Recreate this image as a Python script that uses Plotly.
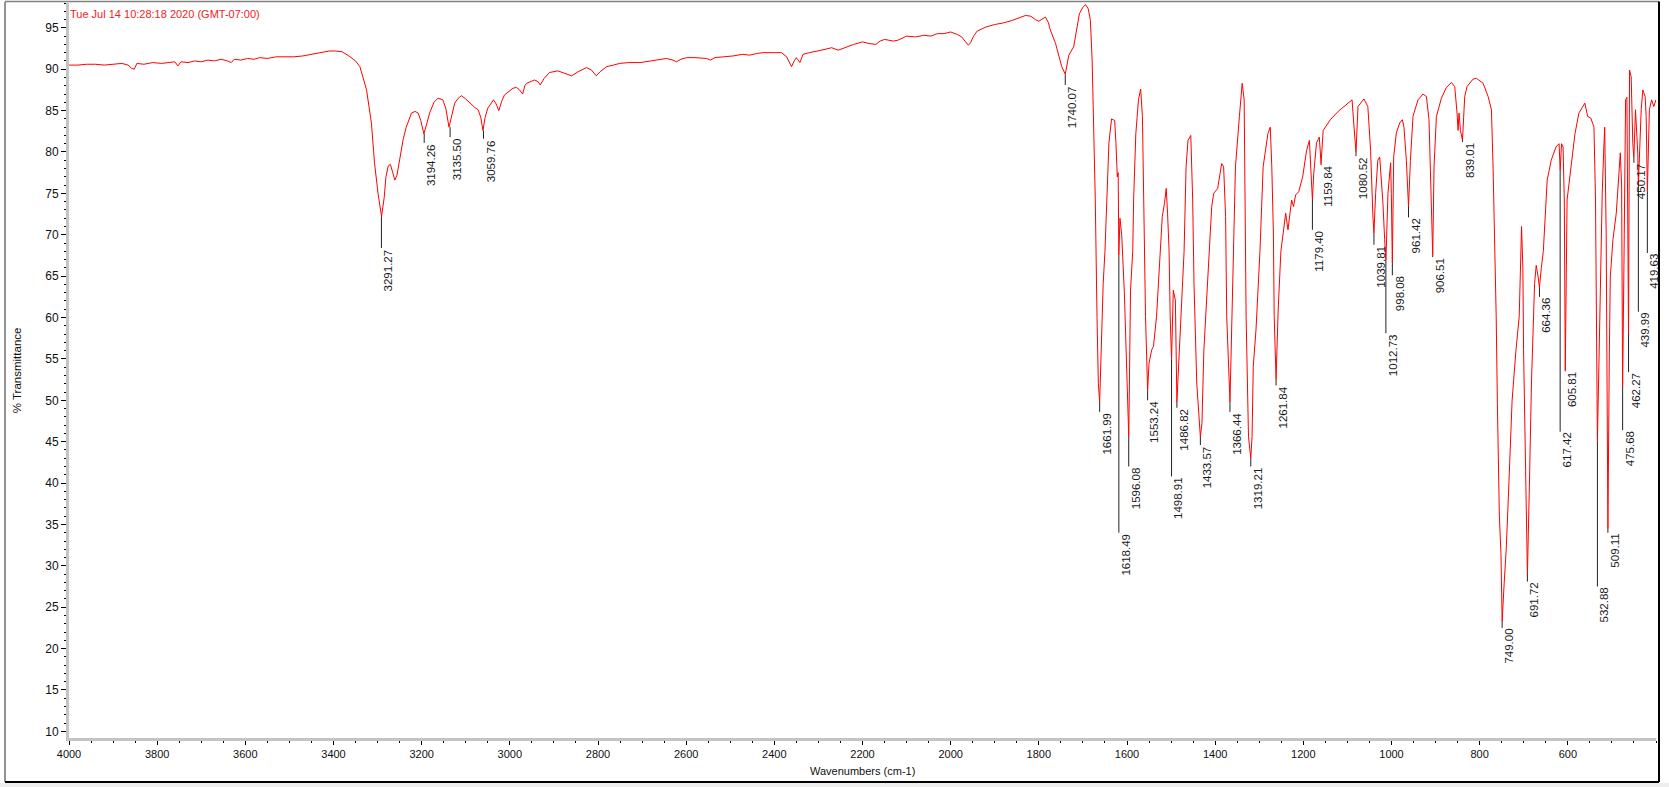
import plotly.graph_objects as go

# ---------------- data ----------------
wavenumber = [
    4000, 3980, 3960, 3940, 3920, 3900, 3880, 3866, 3858, 3852, 3846, 3830, 3810, 3790, 3775, 3760,
    3753, 3746, 3730, 3715, 3700, 3685, 3670, 3655, 3640, 3632, 3625, 3610, 3595, 3580, 3568, 3550,
    3530, 3510, 3490, 3470, 3450, 3430, 3410, 3395, 3380, 3365, 3350, 3340, 3325, 3314, 3307, 3299,
    3291, 3285, 3281, 3276, 3271, 3266, 3261, 3256, 3250, 3242, 3235, 3223, 3215, 3208, 3202, 3195,
    3188, 3182, 3172, 3163, 3152, 3145, 3138, 3132, 3125, 3117, 3110, 3100, 3091, 3080, 3072, 3066,
    3061, 3056, 3050, 3043, 3037, 3031, 3025, 3018, 3012, 3000, 2993, 2985, 2978, 2971, 2966, 2962,
    2944, 2936, 2931, 2922, 2910, 2891, 2875, 2860, 2845, 2826, 2815, 2804, 2795, 2781, 2765, 2751,
    2730, 2705, 2680, 2660, 2645, 2630, 2622, 2612, 2599, 2580, 2565, 2554, 2545, 2535, 2515, 2494,
    2472, 2456, 2440, 2426, 2400, 2384, 2372, 2365, 2361, 2355, 2350, 2342, 2335, 2320, 2300, 2285,
    2270, 2255, 2240, 2220, 2200, 2185, 2170, 2160, 2150, 2130, 2120, 2100, 2080, 2060, 2045, 2030,
    2015, 2000, 1985, 1975, 1966, 1960, 1955, 1948, 1940, 1920, 1900, 1880, 1860, 1845, 1830, 1818,
    1808, 1800, 1792, 1785, 1778, 1775, 1762, 1748, 1740, 1732, 1721, 1715, 1708, 1700, 1694, 1688,
    1683, 1679, 1676, 1672, 1668, 1665, 1662, 1659, 1654, 1650, 1645, 1641, 1635, 1628, 1625, 1622,
    1620, 1618.5, 1616, 1612, 1606, 1601, 1596, 1592, 1587, 1585, 1580, 1574, 1569, 1565, 1562, 1560,
    1558, 1553.2, 1550, 1544, 1540, 1533, 1524, 1520, 1515, 1511, 1508, 1504.6, 1502, 1498.9, 1495, 1490.3,
    1486.8, 1484, 1479.6, 1475, 1470.5, 1466, 1461.6, 1455.3, 1451, 1448, 1441.8, 1433.6, 1430, 1425.6, 1416.7, 1412.4,
    1407.8, 1403.3, 1394.3, 1385.3, 1380.8, 1376.3, 1373.8, 1366.4, 1363, 1358.5, 1354, 1345, 1338.7, 1334.2, 1331.5, 1329.8,
    1324.4, 1319.2, 1316.3, 1313.6, 1307.4, 1302, 1298.4, 1291.2, 1280.4, 1275, 1271.5, 1267.9, 1266.1, 1261.8, 1257.1, 1250.9,
    1246.4, 1240, 1234.8, 1226.6, 1222.2, 1217.6, 1210.4, 1201.5, 1192.6, 1186.2, 1181.7, 1179.4, 1176.4, 1170.1, 1163.8, 1159.8,
    1155, 1138.8, 1120.9, 1107.4, 1089.5, 1085, 1080.5, 1076, 1062.6, 1053.7, 1047.4, 1042, 1039.8, 1036, 1031, 1026.8,
    1019.4, 1015.5, 1012.7, 1008, 1004.2, 1002, 1000.4, 998.1, 995, 989, 981.4, 975.4, 971.7, 966.3, 961.4, 957.1,
    951.2, 939.9, 928.5, 920.8, 914.9, 911.7, 906.5, 903.5, 898.1, 886.8, 875.4, 864.1, 856.6, 851.3, 849, 846.8,
    843.6, 839, 833.9, 828.6, 815, 807.3, 792.2, 780.9, 773.3, 769.6, 765.8, 762.5, 759.8, 755.3, 751.7, 749,
    744.4, 739.9, 735.4, 730.9, 726.4, 717.6, 710.3, 705, 702, 700.4, 695.9, 691.7, 687.1, 682.5, 675.4, 671.7,
    667.3, 664.4, 660.2, 655.6, 646.8, 637.7, 626.9, 619.8, 617.4, 614.3, 610.8, 608, 605.8, 603.6, 601.7, 592.8,
    583.8, 574.9, 561.4, 555.1, 547.9, 540.7, 537.2, 532.9, 528, 522, 518.7, 516.4, 513, 509.1, 506, 503.7,
    497.7, 490.1, 484.1, 481, 478, 475.7, 472, 469, 466, 462.3, 460, 456.3, 452.6, 450.2, 446.5, 441.3,
    440, 433.6, 429.9, 424.6, 422.3, 419.6, 415, 410, 405, 400,
]
transmittance = [
    90.5, 90.5, 90.6, 90.6, 90.5, 90.6, 90.7, 90.5, 90.1, 90.0, 90.7, 90.6, 90.8, 90.7, 90.8, 90.9,
    90.4, 90.9, 90.8, 91.0, 90.9, 91.1, 91.0, 91.2, 91.0, 90.8, 91.2, 91.1, 91.3, 91.2, 91.4, 91.3,
    91.5, 91.5, 91.5, 91.6, 91.8, 92.0, 92.2, 92.2, 92.1, 91.6, 91.0, 90.3, 87.5, 83.5, 78.7, 75.0,
    72.2, 74.5, 77.0, 78.3, 78.5, 77.6, 76.6, 77.2, 79.0, 81.5, 83.0, 84.7, 84.9, 84.7, 83.8, 82.2,
    83.5, 84.7, 86.0, 86.5, 86.3, 85.2, 83.0, 84.5, 85.9, 86.5, 86.8, 86.4, 85.9, 85.4, 85.1, 84.2,
    82.6, 84.2, 85.3, 85.9, 86.3, 85.8, 85.0, 86.2, 86.9, 87.4, 87.7, 87.8, 87.5, 87.0, 88.0, 88.3,
    88.7, 88.5, 88.1, 88.9, 89.6, 89.8, 89.5, 89.2, 89.7, 90.2, 89.9, 89.2, 89.7, 90.3, 90.5, 90.7,
    90.8, 90.8, 91.0, 91.2, 91.3, 91.1, 90.9, 91.2, 91.4, 91.4, 91.3, 91.3, 91.1, 91.4, 91.5, 91.6,
    91.8, 91.7, 91.9, 92.0, 92.0, 92.0, 91.5, 90.6, 90.3, 91.0, 91.4, 90.8, 91.8, 92.0, 92.2, 92.4,
    92.6, 92.3, 92.6, 93.0, 93.3, 93.1, 93.0, 93.4, 93.6, 93.4, 93.5, 94.0, 93.9, 94.1, 94.0, 94.3,
    94.3, 94.5, 94.2, 93.9, 93.3, 92.9, 93.2, 94.0, 94.6, 95.1, 95.4, 95.6, 95.9, 96.2, 96.5, 96.4,
    96.0, 95.8, 96.1, 96.3, 95.6, 94.9, 93.1, 90.3, 89.4, 91.7, 92.7, 94.5, 96.7, 97.5, 97.8, 97.3,
    95.9, 91.0, 84.0, 74.4, 60.0, 52.0, 49.8, 56.5, 64.1, 68.0, 74.2, 81.1, 84.0, 83.8, 81.0, 77.0,
    77.5, 67.5, 72.0, 70.0, 63.0, 55.0, 45.6, 63.3, 68.0, 74.2, 82.2, 86.3, 87.6, 84.3, 74.2, 68.0,
    60.1, 51.2, 54.5, 56.1, 56.5, 60.1, 68.0, 72.2, 73.8, 75.6, 72.6, 68.2, 60.1, 54.9, 63.3, 62.1,
    49.8, 52.9, 58.1, 64.1, 68.0, 78.2, 81.4, 82.0, 74.2, 64.1, 52.1, 45.6, 47.2, 56.1, 64.1, 68.0,
    73.4, 75.0, 75.6, 78.6, 78.2, 72.2, 60.1, 49.8, 58.1, 68.0, 78.2, 84.3, 88.3, 86.3, 74.2, 60.1,
    45.6, 43.0, 45.6, 54.1, 58.5, 63.3, 68.0, 78.2, 82.2, 83.0, 78.2, 70.2, 60.1, 52.5, 60.9, 68.0,
    70.2, 72.6, 70.6, 74.2, 73.4, 74.8, 75.2, 77.0, 80.2, 81.4, 76.6, 74.2, 77.4, 81.1, 81.8, 78.6,
    82.6, 83.9, 84.9, 85.5, 86.3, 83.0, 80.0, 85.5, 86.4, 85.5, 80.2, 72.0, 70.2, 75.0, 79.0, 79.4,
    73.8, 69.4, 66.9, 75.0, 78.2, 78.7, 75.0, 66.6, 79.4, 82.3, 83.5, 83.9, 83.0, 79.0, 73.4, 79.0,
    84.3, 86.3, 87.0, 86.7, 83.9, 78.2, 67.5, 78.2, 84.3, 86.5, 87.8, 88.4, 87.9, 84.7, 82.6, 84.7,
    82.6, 81.4, 86.7, 87.9, 88.8, 88.9, 88.3, 86.7, 85.1, 78.2, 70.2, 60.1, 49.6, 36.0, 31.5, 23.3,
    27.9, 31.9, 37.6, 44.4, 50.0, 56.1, 60.1, 71.0, 66.0, 56.1, 40.0, 28.9, 40.0, 52.1, 64.1, 66.3,
    64.9, 63.6, 66.0, 68.0, 76.6, 79.0, 80.6, 81.0, 77.8, 81.0, 80.6, 74.2, 53.6, 64.1, 74.2, 78.2,
    82.2, 84.7, 85.9, 84.3, 84.1, 83.0, 74.2, 45.0, 60.0, 75.0, 80.0, 83.0, 70.0, 34.5, 55.0, 64.9,
    69.4, 72.6, 77.4, 79.9, 76.0, 51.6, 70.0, 86.3, 86.6, 58.0, 89.9, 89.1, 81.0, 79.4, 85.1, 79.8,
    76.0, 85.1, 87.5, 86.7, 84.3, 75.2, 85.1, 86.3, 85.5, 86.3,
]

peak_labels = ["3291.27", "3194.26", "3135.50", "3059.76", "1740.07", "1661.99", "1618.49", "1596.08",
               "1553.24", "1498.91", "1486.82", "1433.57", "1366.44", "1319.21", "1261.84", "1179.40",
               "1159.84", "1080.52", "1039.81", "1012.73", "998.08", "961.42", "906.51", "839.01",
               "749.00", "691.72", "664.36", "617.42", "605.81", "532.88", "509.11", "475.68",
               "462.27", "450.17", "439.99", "419.63"]
peak_T = [72.2, 82.2, 83.0, 82.6, 89.4, 49.8, 67.5, 45.6,
          51.2, 54.9, 49.8, 45.6, 49.8, 43.0, 52.5, 74.2,
          78.6, 80.0, 70.2, 66.9, 66.6, 73.4, 67.5, 81.4,
          23.3, 28.9, 63.6, 77.8, 53.6, 45.0, 34.5, 51.6,
          58.0, 79.4, 76.0, 75.2]
label_T = [68.4, 81.1, 81.8, 81.6, 88.1, 48.6, 34.0, 42.0,
           50.0, 40.8, 49.1, 44.6, 48.6, 42.0, 51.8, 70.6,
           78.4, 79.5, 68.8, 58.1, 65.1, 72.1, 67.3, 81.2,
           22.5, 28.1, 62.5, 46.2, 53.5, 27.5, 34.0, 46.4,
           53.4, 78.7, 60.7, 67.8]

x_ticks = [4000, 3800, 3600, 3400, 3200, 3000, 2800, 2600, 2400, 2200, 2000, 1800, 1600, 1400, 1200, 1000, 800, 600]
y_ticks = [10, 15, 20, 25, 30, 35, 40, 45, 50, 55, 60, 65, 70, 75, 80, 85, 90, 95]

title_text = "Tue Jul 14 10:28:18 2020 (GMT-07:00)"
x_title = "Wavenumbers (cm-1)"
y_title = "% Transmittance"

# ---------------- figure ----------------
FONT = "Liberation Sans, Arial, sans-serif"
fig = go.Figure()

fig.add_trace(go.Scatter(x=wavenumber, y=transmittance, mode="lines",
                         line=dict(color="#ff0000", width=1), hoverinfo="skip", showlegend=False))

lx, ly = [], []
for lab, pt, lt in zip(peak_labels, peak_T, label_T):
    w = float(lab)
    lx += [w, w, None]
    ly += [pt, lt, None]
fig.add_trace(go.Scatter(x=lx, y=ly, mode="lines", line=dict(color="#222222", width=1),
                         hoverinfo="skip", showlegend=False))

annotations = []
for lab, lt in zip(peak_labels, label_T):
    annotations.append(dict(x=float(lab), y=lt, xref="x", yref="y", text=lab, showarrow=False,
                            textangle=-90, xanchor="left", yanchor="top", xshift=0,
                            borderpad=0, font=dict(family=FONT, size=11.5, color="#1a1a1a")))

annotations.append(dict(x=0.0, y=0.985, xref="paper", yref="paper", text=title_text,
                        showarrow=False, xanchor="left", yanchor="middle", xshift=-1,
                        font=dict(family=FONT, size=11, color="#ee1c25")))
annotations.append(dict(x=0.5, y=-0.0445, xref="paper", yref="paper", text=x_title,
                        showarrow=False, xanchor="center", yanchor="middle",
                        font=dict(family=FONT, size=11, color="#111111")))
annotations.append(dict(x=-0.0342, y=0.5, xref="paper", yref="paper", text=y_title,
                        showarrow=False, xanchor="center", yanchor="middle", textangle=-90, xshift=2,
                        font=dict(family=FONT, size=11.5, color="#111111")))

W, H = 1669, 787
L, R, T, B = 69, 13, 3, 49
pw, ph = W - L - R, H - T - B

def px(xp):
    return (xp - L) / pw

def py(yp):
    return (H - B - yp) / ph

shapes = [
    dict(type="line", xref="paper", yref="paper", x0=px(5), x1=px(5), y0=py(2), y1=py(782),
         line=dict(color="#707070", width=1.5)),
    dict(type="line", xref="paper", yref="paper", x0=px(5), x1=px(1659), y0=py(1.5), y1=py(1.5),
         line=dict(color="#808080", width=1.5)),
    dict(type="line", xref="paper", yref="paper", x0=px(1659), x1=px(1659), y0=py(1.5), y1=py(782),
         line=dict(color="#000000", width=2)),
    dict(type="line", xref="paper", yref="paper", x0=px(5), x1=px(1659), y0=py(782), y1=py(782),
         line=dict(color="#000000", width=2)),
    dict(type="rect", xref="paper", yref="paper", x0=px(0), x1=px(1669), y0=py(783), y1=py(787),
         line=dict(width=0), fillcolor="#eeeeee", layer="below"),
]

fig.update_layout(
    width=W, height=H,
    margin=dict(l=L, r=R, t=T, b=B, pad=0),
    paper_bgcolor="white", plot_bgcolor="white",
    showlegend=False,
    annotations=annotations,
    shapes=shapes,
    font=dict(family=FONT, size=11, color="#111111"),
    xaxis=dict(range=[4000, 400], tickmode="array", tickvals=x_ticks, ticktext=[str(v) for v in x_ticks],
               showgrid=False, zeroline=False, showline=True, linecolor="#c4c4c4", linewidth=3,
               ticks="outside", ticklen=4, tickwidth=1, tickcolor="#000000",
               minor=dict(dtick=50, tick0=0, ticks="outside", ticklen=2, tickcolor="#000000", showgrid=False),
               tickfont=dict(family=FONT, size=11, color="#111111")),
    yaxis=dict(range=[9.2, 98.0], tickmode="array", tickvals=y_ticks, ticktext=[str(v) for v in y_ticks],
               showgrid=False, zeroline=False, showline=True, linecolor="#c4c4c4", linewidth=3,
               ticks="outside", ticklen=5, tickwidth=1, tickcolor="#000000",
               minor=dict(dtick=1, tick0=0, ticks="outside", ticklen=2, tickcolor="#000000", showgrid=False),
               tickfont=dict(family=FONT, size=12, color="#111111")),
)

fig.write_html("out.html", config={"displayModeBar": False},
               post_script="document.body.style.margin='0';document.body.style.overflow='hidden';")
